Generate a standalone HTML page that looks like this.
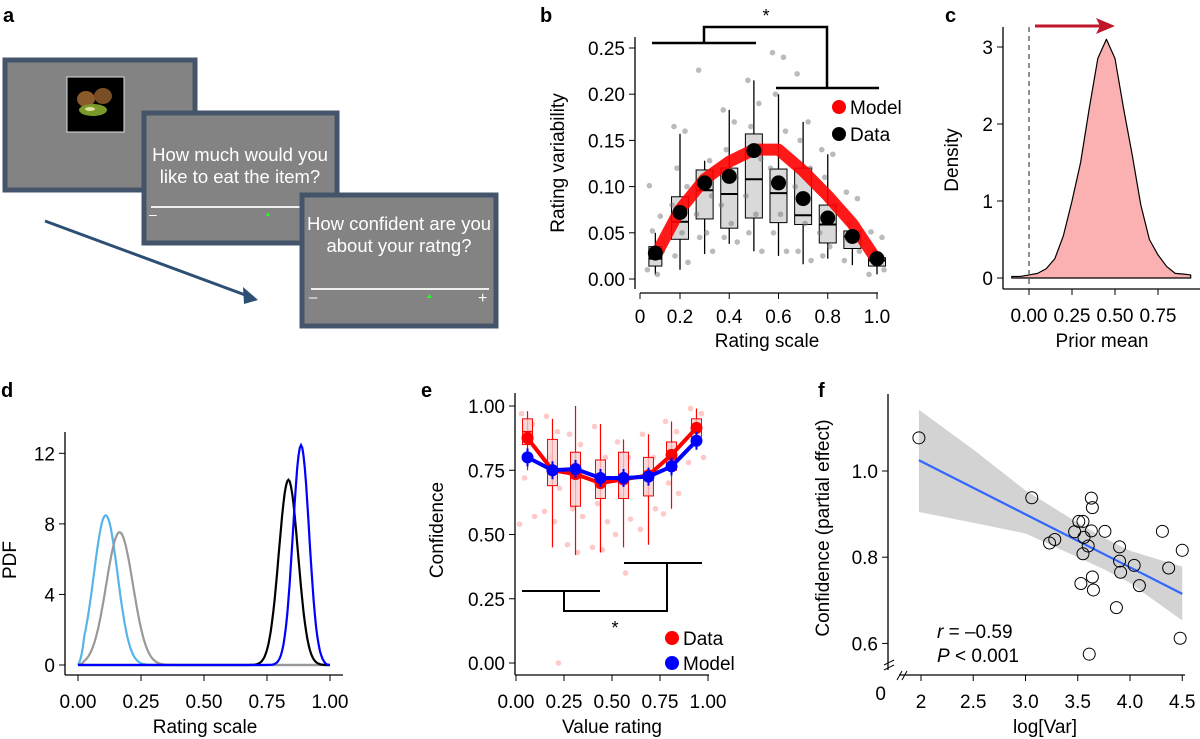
<!DOCTYPE html>
<html><head><meta charset="utf-8"><style>
body{margin:0;background:#fff}
svg{display:block;font-family:"Liberation Sans",Arial,sans-serif}
</style></head><body>
<svg id="fig" width="1200" height="739" viewBox="0 0 1200 739" xmlns="http://www.w3.org/2000/svg">
<g>
<text x="3" y="22" font-size="20" font-weight="bold">a</text>
<rect x="5" y="60" width="190" height="130" fill="#838383" stroke="#44546a" stroke-width="5"/>
<rect x="67" y="77" width="57" height="55" fill="#000" stroke="#ddd" stroke-width="1"/>
<ellipse cx="86" cy="99" rx="9" ry="8" fill="#8a5a2b"/><ellipse cx="103" cy="96" rx="9" ry="8" fill="#7a4e25"/>
<ellipse cx="93" cy="110" rx="14" ry="6" fill="#7c9a2a"/><ellipse cx="90" cy="109" rx="5" ry="2" fill="#dde0a0"/>
<rect x="144" y="113" width="193" height="130" fill="#838383" stroke="#44546a" stroke-width="5"/>
<text fill="#fff" font-size="18.5" text-anchor="middle"><tspan x="240" y="161">How much would you</tspan><tspan x="240" y="183">like to eat the item?</tspan></text>
<line x1="151" y1="207" x2="335" y2="207" stroke="#eee" stroke-width="2"/>
<text x="149" y="219" fill="#fff" font-size="14">–</text>
<polygon points="266,216 270,216 268,212" fill="#2f2"/>
<rect x="302" y="195" width="194" height="131" fill="#838383" stroke="#44546a" stroke-width="5"/>
<text fill="#fff" font-size="18.5" text-anchor="middle"><tspan x="399" y="230">How confident are you</tspan><tspan x="399" y="252">about your ratng?</tspan></text>
<line x1="311" y1="289" x2="489" y2="289" stroke="#eee" stroke-width="2"/>
<text x="309" y="302" fill="#fff" font-size="15">–</text><text x="478" y="303" fill="#fff" font-size="16">+</text>
<polygon points="427,298 432,298 429.5,294" fill="#2f2"/>
<line x1="45" y1="221" x2="248" y2="296" stroke="#2c4f73" stroke-width="3"/>
<polygon points="258,300 243,287 244,304" fill="#2c4f73"/>
</g>
<g id="pb"></g>
<g id="pc"></g>
<g id="pd"></g>
<g id="pe"></g>
<g id="pf"></g>
</svg>
<script>
const bCats=[0.1,0.2,0.3,0.4,0.5,0.6,0.7,0.8,0.9,1.0];
const bMeans=[0.028,0.072,0.104,0.111,0.139,0.104,0.087,0.066,0.046,0.022];
const bModel=[0.025,0.075,0.108,0.127,0.14,0.14,0.117,0.09,0.06,0.02];
const bQ1=[0.014,0.043,0.065,0.055,0.066,0.061,0.059,0.039,0.033,0.014];
const bMed=[0.022,0.062,0.096,0.092,0.108,0.093,0.069,0.059,0.046,0.020];
const bQ3=[0.035,0.089,0.118,0.120,0.157,0.119,0.120,0.080,0.052,0.023];
const bLo=[0.005,0.010,0.027,0.038,0.030,0.025,0.016,0.022,0.015,0.005];
const bHi=[0.050,0.157,0.128,0.183,0.215,0.200,0.170,0.135,0.050,0.030];
const bDots=[[0.101,0.068,0.052,0.03,0.01,0.005],[0.165,0.16,0.12,0.1,0.08,0.05,0.025,0.018],[0.226,0.128,0.11,0.09,0.07,0.05,0.045,0.03],[0.183,0.17,0.14,0.11,0.08,0.06,0.045,0.04],[0.215,0.19,0.165,0.13,0.09,0.07,0.05,0.03],[0.245,0.24,0.2,0.16,0.12,0.07,0.05,0.03],[0.222,0.17,0.15,0.12,0.1,0.06,0.03,0.02],[0.14,0.135,0.11,0.08,0.05,0.035,0.025],[0.094,0.087,0.06,0.03,0.02],[0.051,0.045,0.03,0.01,0.005]];
const bYTicks=[0,0.05,0.10,0.15,0.20,0.25];
const bXTicks=[0.2,0.4,0.6,0.8,1.0];
const cX=[-0.1,-0.05,0,0.05,0.1,0.15,0.2,0.25,0.3,0.35,0.4,0.45,0.5,0.55,0.6,0.65,0.7,0.75,0.8,0.85,0.9,0.94];
const cD=[0.02,0.02,0.04,0.06,0.12,0.25,0.55,1.0,1.5,2.2,2.85,3.1,2.85,2.2,1.6,0.95,0.5,0.3,0.15,0.06,0.05,0.04];
const cYTicks=[0,1,2,3];
const cXTicks=[0,0.25,0.5,0.75];
const dMeans=[0.11,0.165,0.835,0.885];
const dSds=[0.047,0.053,0.038,0.032];
const dColors=["#56b4e9","#999999","#000000","#0000ff"];
const dYTicks=[0,4,8,12];
const dXTicks=[0,0.25,0.5,0.75,1.0];
const eX=[0.06,0.19,0.31,0.44,0.56,0.69,0.81,0.94];
const eData=[0.875,0.75,0.735,0.70,0.715,0.73,0.81,0.915];
const eModel=[0.80,0.75,0.755,0.72,0.72,0.725,0.765,0.865];
const eQ1=[0.85,0.69,0.61,0.64,0.64,0.65,0.75,0.88];
const eMed=[0.90,0.75,0.72,0.70,0.72,0.72,0.80,0.92];
const eQ3=[0.95,0.87,0.82,0.79,0.82,0.80,0.86,0.95];
const eLo=[0.75,0.45,0.42,0.43,0.45,0.46,0.60,0.83];
const eHi=[0.98,0.95,1.0,0.93,0.87,0.89,0.94,0.99];
const eDots=[[0.97,0.93,0.72,0.57,0.54,0.9],[0.96,0.9,0.8,0.68,0.59,0.55,0.0],[0.89,0.85,0.6,0.57,0.46,0.43],[0.92,0.8,0.62,0.55,0.45,0.44],[0.86,0.8,0.65,0.56,0.5,0.35],[0.89,0.8,0.66,0.6,0.52],[0.94,0.9,0.7,0.66,0.58],[0.99,0.97,0.85,0.8,0.78]];
const eYTicks=[0,0.25,0.5,0.75,1.0];
const eXTicks=[0,0.25,0.5,0.75,1.0];
const fX=[1.98,3.06,3.23,3.28,3.47,3.51,3.55,3.63,3.64,3.63,3.56,3.60,3.55,3.53,3.64,3.65,3.76,3.90,3.90,3.91,4.04,4.09,3.87,3.61,4.31,4.37,4.50,4.48];
const fY=[1.077,0.938,0.833,0.841,0.859,0.883,0.883,0.937,0.915,0.861,0.846,0.826,0.808,0.739,0.754,0.724,0.860,0.824,0.791,0.765,0.781,0.734,0.683,0.575,0.860,0.775,0.816,0.612];
const fFitX=[1.98,4.5];
const fFitY=[1.025,0.715];
const fBandX=[1.98,2.5,3.0,3.5,3.75,4.0,4.5];
const fBandHi=[1.142,1.05,0.955,0.88,0.845,0.815,0.778];
const fBandLo=[0.905,0.88,0.855,0.80,0.772,0.74,0.653];
const fYTicks=[0.6,0.8,1.0];
const fXTicks=[2,2.5,3.0,3.5,4.0,4.5];
const fXLabels=["2","2.5","3.0","3.5","4.0","4.5"];

const FS=19, TS=19, BOT=733;
const NS="http://www.w3.org/2000/svg";
function mk(parent,tag,attrs,text){const e=document.createElementNS(NS,tag);for(const k in attrs)e.setAttribute(k,attrs[k]);if(text!==undefined)e.textContent=text;parent.appendChild(e);return e;}
function fmt(v,d){return v.toFixed(d);}

(function(){
const g=document.getElementById('pb');
const X=v=>680+(v-0.2)*246.25, Y=v=>279-v*924;
let t=mk(g,'text',{x:540,y:22,'font-size':20,'font-weight':'bold'},'b');


mk(g,'line',{x1:635,y1:37,x2:635,y2:289,stroke:'#000','stroke-width':1.3});
mk(g,'line',{x1:640,y1:293,x2:878,y2:293,stroke:'#000','stroke-width':1.3});
bYTicks.forEach(v=>{mk(g,'line',{x1:629,x2:635,y1:Y(v),y2:Y(v),stroke:'#000'});
 const l=mk(g,'text',{x:625,y:Y(v)+7,'font-size':FS,'text-anchor':'end'},fmt(v,2));
 
 });
mk(g,'line',{x1:640,x2:640,y1:293,y2:299,stroke:'#000'});
mk(g,'text',{x:640,y:323,'font-size':FS,'text-anchor':'middle'},'0');
bXTicks.forEach(v=>{mk(g,'line',{x1:X(v),x2:X(v),y1:293,y2:299,stroke:'#000'});
 const l=mk(g,'text',{x:X(v),y:323,'font-size':FS,'text-anchor':'middle'},fmt(v,1));
 
 });
t=mk(g,'text',{x:767,y:347,'font-size':TS,'text-anchor':'middle'},'Rating scale');


t=mk(g,'text',{x:564,y:163,'font-size':TS,'text-anchor':'middle',transform:'rotate(-90 564 163)'},'Rating variability');


const offs=[-6,5,-3,7,-8,2,-5,8];
bCats.forEach((c,i)=>{
 const w=i==0?13:17;
 mk(g,'line',{x1:X(c),x2:X(c),y1:Y(bLo[i]),y2:Y(bHi[i]),stroke:'#000','stroke-width':1.3});
 const b=mk(g,'rect',{x:X(c)-w/2,y:Y(bQ3[i]),width:w,height:Y(bQ1[i])-Y(bQ3[i]),fill:'#d9d9d9',stroke:'#000','stroke-width':1});
 
 
 mk(g,'line',{x1:X(c)-w/2,x2:X(c)+w/2,y1:Y(bMed[i]),y2:Y(bMed[i]),stroke:'#000','stroke-width':2});
 bDots[i].forEach((v,j)=>mk(g,'circle',{cx:X(c)+offs[j%8],cy:Y(v),r:2.8,fill:'#777','fill-opacity':0.5}));
});
const pts=bCats.map((c,i)=>X(c)+','+Y(bModel[i])).join(' ');
const ml=mk(g,'polyline',{points:pts,fill:'none',stroke:'#ff0000','stroke-width':12,'stroke-linejoin':'round','stroke-opacity':0.9});


bCats.forEach((c,i)=>{
 const p=mk(g,'circle',{cx:X(c),cy:Y(bMeans[i]),r:7.5,fill:'#000'});
 
 });
mk(g,'polyline',{points:'652,43 756,43',stroke:'#000','stroke-width':2.5,fill:'none'});
mk(g,'polyline',{points:'704,43 704,27 827,27 827,88',stroke:'#000','stroke-width':2.5,fill:'none'});
mk(g,'polyline',{points:'776,88 879,88',stroke:'#000','stroke-width':2.5,fill:'none'});
mk(g,'text',{x:766,y:22,'font-size':18,'text-anchor':'middle'},'*');
mk(g,'circle',{cx:839,cy:107,r:7,fill:'#f00'});
t=mk(g,'text',{x:850,y:114,'font-size':FS},'Model');


mk(g,'circle',{cx:839,cy:134,r:7,fill:'#000'});
t=mk(g,'text',{x:850,y:141,'font-size':FS},'Data');


})();

(function(){
const g=document.getElementById('pc');
const X=v=>1029+v*172, Y=v=>278-v*77;
let t=mk(g,'text',{x:945,y:22,'font-size':20,'font-weight':'bold'},'c');


mk(g,'line',{x1:1003,y1:27,x2:1003,y2:289,stroke:'#000','stroke-width':1.3});
mk(g,'line',{x1:1003,y1:289,x2:1200,y2:289,stroke:'#000','stroke-width':1.3});
cYTicks.forEach(v=>{mk(g,'line',{x1:997,x2:1003,y1:Y(v),y2:Y(v),stroke:'#000'});
 mk(g,'text',{x:993,y:Y(v)+7,'font-size':FS,'text-anchor':'end'},String(v));});
cXTicks.forEach(v=>{mk(g,'line',{x1:X(v),x2:X(v),y1:289,y2:295,stroke:'#000'});
 mk(g,'text',{x:X(v),y:322,'font-size':FS,'text-anchor':'middle'},fmt(v,2));});
t=mk(g,'text',{x:1102,y:347,'font-size':TS,'text-anchor':'middle'},'Prior mean');


t=mk(g,'text',{x:958,y:160,'font-size':TS,'text-anchor':'middle',transform:'rotate(-90 958 160)'},'Density');


let d='M'+X(cX[0])+','+Y(0);
cX.forEach((x,i)=>d+=' L'+X(x)+','+Y(cD[i]));
d+=' L'+X(cX[cX.length-1])+','+Y(0)+' Z';
const a=mk(g,'path',{d:d,fill:'#fbb1b1',stroke:'#000','stroke-width':1.2,'stroke-linejoin':'round'});


mk(g,'line',{x1:X(0),x2:X(0),y1:27,y2:289,stroke:'#555','stroke-dasharray':'5,4','stroke-width':1.3});
mk(g,'line',{x1:1035,x2:1100,y1:26,y2:26,stroke:'#c0162b','stroke-width':3});
mk(g,'polygon',{points:'1115,26 1096,18 1100,26 1096,34',fill:'#c0162b'});
})();

(function(){
const g=document.getElementById('pd');
const X=v=>78+v*252, Y=v=>665-v*17.64;
let t=mk(g,'text',{x:1,y:397,'font-size':20,'font-weight':'bold'},'d');


mk(g,'line',{x1:65,y1:432,x2:65,y2:675,stroke:'#000','stroke-width':1.3});
mk(g,'line',{x1:65,y1:675,x2:343,y2:675,stroke:'#000','stroke-width':1.3});
dYTicks.forEach(v=>{mk(g,'line',{x1:59,x2:65,y1:Y(v),y2:Y(v),stroke:'#000'});
 mk(g,'text',{x:55,y:Y(v)+7,'font-size':FS,'text-anchor':'end'},String(v));});
dXTicks.forEach(v=>{mk(g,'line',{x1:X(v),x2:X(v),y1:675,y2:681,stroke:'#000'});
 mk(g,'text',{x:X(v),y:708,'font-size':FS,'text-anchor':'middle'},fmt(v,2));});
t=mk(g,'text',{x:205,y:BOT,'font-size':TS,'text-anchor':'middle'},'Rating scale');


t=mk(g,'text',{x:16,y:560,'font-size':TS,'text-anchor':'middle',transform:'rotate(-90 16 560)'},'PDF');


dMeans.forEach((m,i)=>{
 const s=dSds[i];let p=[];
 for(let k=0;k<=200;k++){const x=k/200;let y=Math.exp(-0.5*((x-m)/s)**2)/(s*Math.sqrt(2*Math.PI));y*=Math.min(1,x*40)*Math.min(1,(1-x)*40);p.push(X(x).toFixed(1)+','+Y(y).toFixed(1));}
 const l=mk(g,'polyline',{points:p.join(' '),fill:'none',stroke:dColors[i],'stroke-width':2.2});
 
 
});
})();

(function(){
const g=document.getElementById('pe');
const X=v=>516+v*192, Y=v=>663-v*257;
let t=mk(g,'text',{x:421,y:397,'font-size':20,'font-weight':'bold'},'e');


mk(g,'line',{x1:515,y1:393,x2:515,y2:675,stroke:'#000','stroke-width':1.3});
mk(g,'line',{x1:515,y1:675,x2:709,y2:675,stroke:'#000','stroke-width':1.3});
eYTicks.forEach(v=>{mk(g,'line',{x1:509,x2:515,y1:Y(v),y2:Y(v),stroke:'#000'});
 mk(g,'text',{x:505,y:Y(v)+7,'font-size':FS,'text-anchor':'end'},fmt(v,2));});
eXTicks.forEach(v=>{mk(g,'line',{x1:X(v),x2:X(v),y1:675,y2:681,stroke:'#000'});
 mk(g,'text',{x:X(v),y:708,'font-size':FS,'text-anchor':'middle'},fmt(v,2));});
t=mk(g,'text',{x:612,y:BOT,'font-size':TS,'text-anchor':'middle'},'Value rating');


t=mk(g,'text',{x:443,y:530,'font-size':TS,'text-anchor':'middle',transform:'rotate(-90 443 530)'},'Confidence');


const offs=[-6,5,-3,7,-8,2,6];
eX.forEach((c,i)=>{
 eDots[i].forEach((v,j)=>mk(g,'circle',{cx:X(c)+offs[j%7],cy:Y(v),r:2.8,fill:'#f88','fill-opacity':0.45}));
 mk(g,'line',{x1:X(c),x2:X(c),y1:Y(eLo[i]),y2:Y(eHi[i]),stroke:'#f00','stroke-width':1.2});
 const b=mk(g,'rect',{x:X(c)-5,y:Y(eQ3[i]),width:10,height:Y(eQ1[i])-Y(eQ3[i]),fill:'#f8d0d0','fill-opacity':0.8,stroke:'#f00','stroke-width':1});
 
 
 mk(g,'line',{x1:X(c)-5,x2:X(c)+5,y1:Y(eMed[i]),y2:Y(eMed[i]),stroke:'#f00','stroke-width':1.5});
});
let l=mk(g,'polyline',{points:eX.map((c,i)=>X(c)+','+Y(eData[i])).join(' '),fill:'none',stroke:'#f00','stroke-width':4});


eX.forEach((c,i)=>{const p=mk(g,'circle',{cx:X(c),cy:Y(eData[i]),r:6,fill:'#f00'});
 
 });
l=mk(g,'polyline',{points:eX.map((c,i)=>X(c)+','+Y(eModel[i])).join(' '),fill:'none',stroke:'#00f','stroke-width':4});


eX.forEach((c,i)=>{mk(g,'line',{x1:X(c),x2:X(c),y1:Y(eModel[i])-9,y2:Y(eModel[i])+9,stroke:'#00f','stroke-width':2});
 const p=mk(g,'circle',{cx:X(c),cy:Y(eModel[i]),r:6,fill:'#00f'});
 
 });
mk(g,'polyline',{points:'522,591 600,591',stroke:'#000','stroke-width':2,fill:'none'});
mk(g,'polyline',{points:'564,591 564,611 667,611 667,563',stroke:'#000','stroke-width':2,fill:'none'});
mk(g,'polyline',{points:'624,563 702,563',stroke:'#000','stroke-width':2,fill:'none'});
mk(g,'text',{x:615,y:634,'font-size':18,'text-anchor':'middle'},'*');
mk(g,'circle',{cx:672,cy:638,r:7,fill:'#f00'});
t=mk(g,'text',{x:683,y:645,'font-size':FS},'Data');


mk(g,'circle',{cx:672,cy:663,r:7,fill:'#00f'});
t=mk(g,'text',{x:683,y:670,'font-size':FS},'Model');


})();

(function(){
const g=document.getElementById('pf');
const X=v=>921+(v-2)*104.5, Y=v=>471-(v-1)*431;
let t=mk(g,'text',{x:818,y:397,'font-size':20,'font-weight':'bold'},'f');


mk(g,'line',{x1:888,y1:394,x2:888,y2:670,stroke:'#000','stroke-width':1.3});
mk(g,'line',{x1:899,y1:675,x2:1185,y2:675,stroke:'#000','stroke-width':1.3});
mk(g,'line',{x1:884,y1:665,x2:894,y2:660,stroke:'#000'});mk(g,'line',{x1:884,y1:670,x2:894,y2:665,stroke:'#000'});
mk(g,'line',{x1:897,y1:680,x2:902,y2:671,stroke:'#000'});mk(g,'line',{x1:902,y1:680,x2:907,y2:671,stroke:'#000'});
fYTicks.forEach(v=>{mk(g,'line',{x1:882,x2:888,y1:Y(v),y2:Y(v),stroke:'#000'});
 mk(g,'text',{x:878,y:Y(v)+7,'font-size':FS,'text-anchor':'end'},fmt(v,1));});
mk(g,'text',{x:886,y:700,'font-size':FS,'text-anchor':'end'},'0');
fXTicks.forEach((v,i)=>{mk(g,'line',{x1:X(v),x2:X(v),y1:675,y2:681,stroke:'#000'});
 mk(g,'text',{x:X(v),y:708,'font-size':FS,'text-anchor':'middle'},fXLabels[i]);});
t=mk(g,'text',{x:1045,y:BOT,'font-size':TS,'text-anchor':'middle'},'log[Var]');


t=mk(g,'text',{x:829,y:528,'font-size':TS,'text-anchor':'middle',transform:'rotate(-90 829 528)'},'Confidence (partial effect)');


let pts=fBandX.map((x,i)=>X(x)+','+Y(fBandHi[i]));
for(let i=fBandX.length-1;i>=0;i--)pts.push(X(fBandX[i])+','+Y(fBandLo[i]));
const band=mk(g,'polygon',{points:pts.join(' '),fill:'#d3d3d3'});


const fl=mk(g,'line',{x1:X(fFitX[0]),y1:Y(fFitY[0]),x2:X(fFitX[1]),y2:Y(fFitY[1]),stroke:'#3366ff','stroke-width':2.2});


fX.forEach((x,i)=>{const p=mk(g,'circle',{cx:X(x),cy:Y(fY[i]),r:6,fill:'none',stroke:'#000','stroke-width':1});
 
 });
t=mk(g,'text',{x:937,y:638,'font-size':FS},'');
t.innerHTML='<tspan font-style="italic">r</tspan> = –0.59';


t=mk(g,'text',{x:937,y:662,'font-size':FS},'');
t.innerHTML='<tspan font-style="italic">P</tspan> &lt; 0.001';


})();
</script>
</body></html>
